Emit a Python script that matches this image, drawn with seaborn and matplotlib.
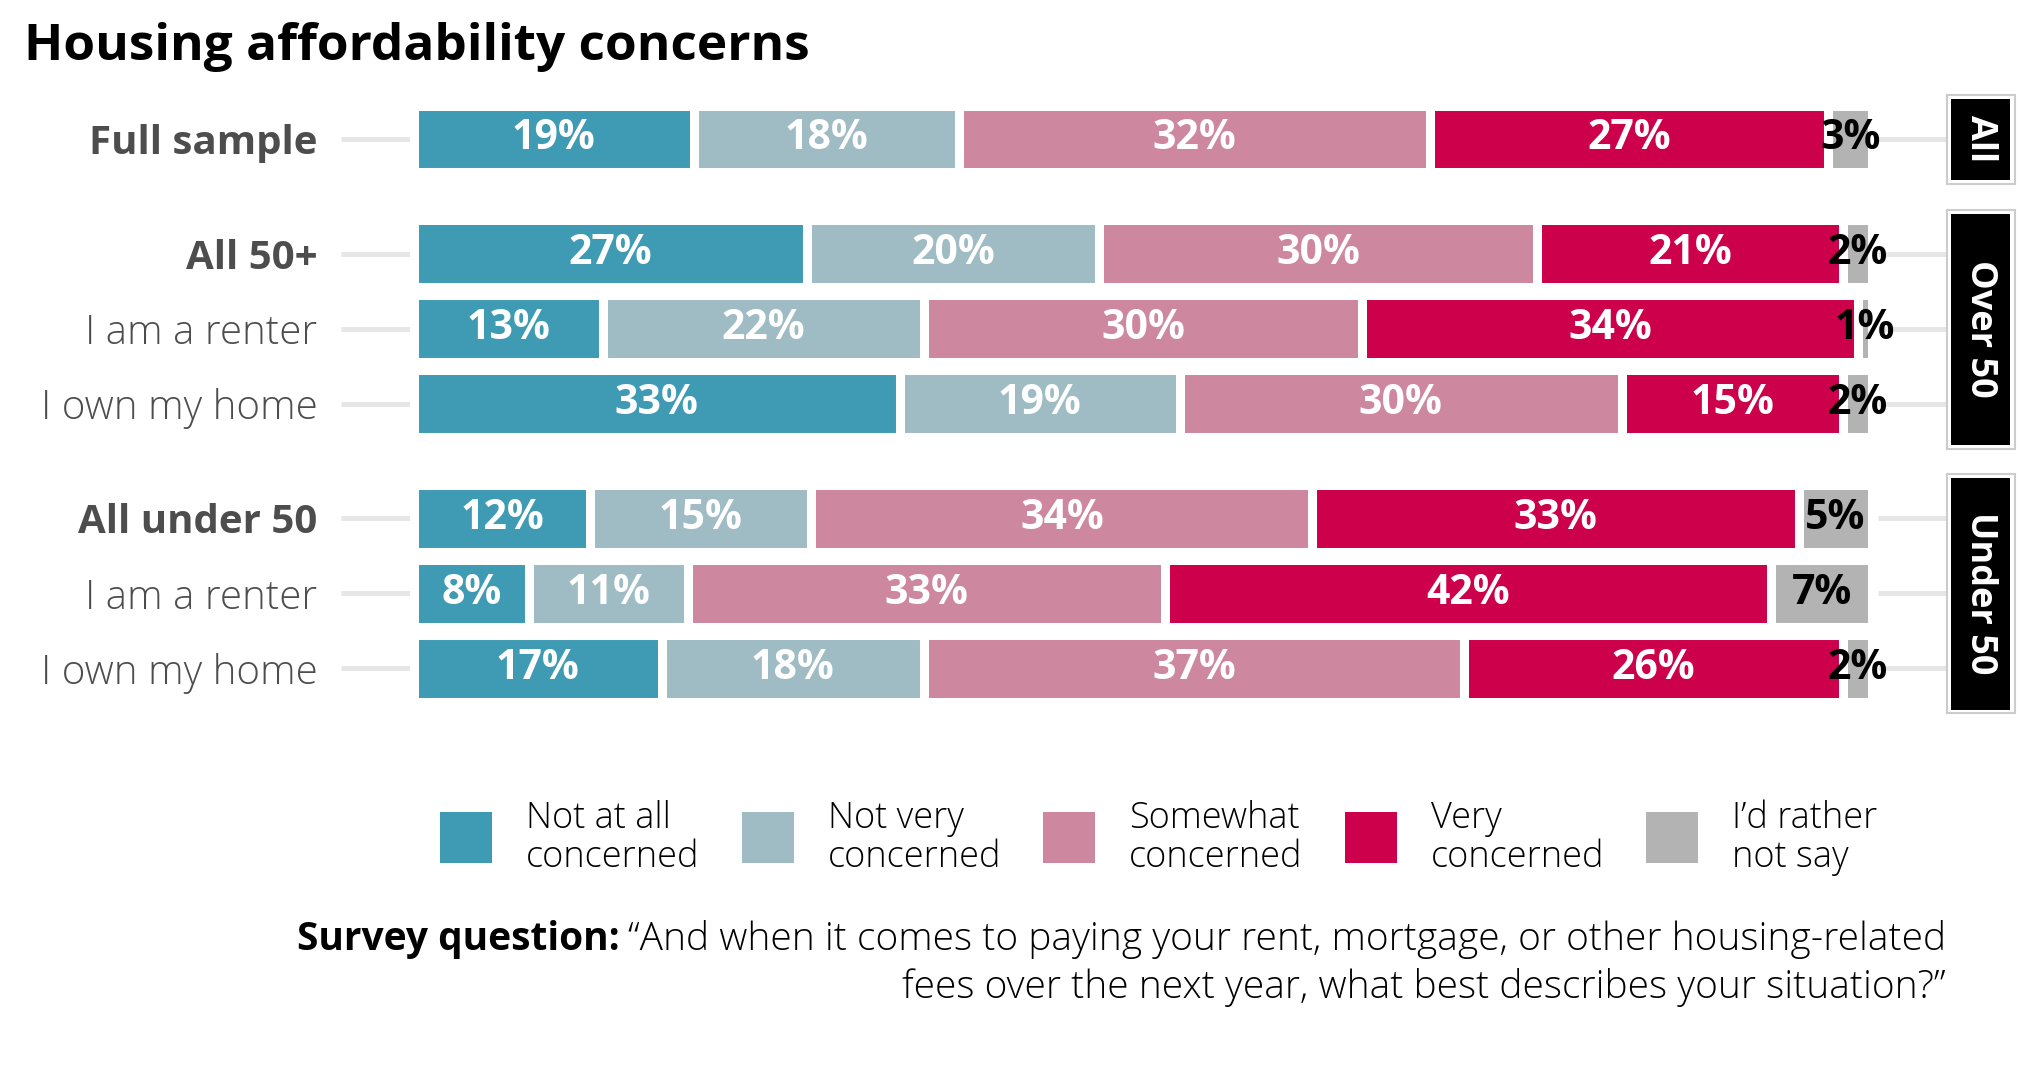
import numpy as np
import pandas as pd
import matplotlib.pyplot as plt
import matplotlib.transforms as mtransforms
from matplotlib.patches import Rectangle
import seaborn as sns

# Data
rows = ["Full sample", "All 50+", "I am a renter", "I own my home",
        "All under 50", "I am a renter", "I own my home"]
groups = ["All", "Over 50", "Over 50", "Over 50", "Under 50", "Under 50", "Under 50"]
bold_rows = [True, True, False, False, True, False, False]
categories = ["Not at all\nconcerned", "Not very\nconcerned", "Somewhat\nconcerned",
              "Very\nconcerned", "I\u2019d rather\nnot say"]
not_at_all = [19, 27, 13, 33, 12, 8, 17]
not_very = [18, 20, 22, 19, 15, 11, 18]
somewhat = [32, 30, 30, 30, 34, 33, 37]
very = [27, 21, 34, 15, 33, 42, 26]
rather_not = [3, 2, 1, 2, 5, 7, 2]

colors = ["#3e9bb3", "#9fbbc4", "#cd889f", "#cc004b", "#b3b3b3"]
label_grey = "#4d4d4d"
tick_grey = "#e6e6e6"

sns.set_style("white")
plt.rcParams["font.family"] = ["Open Sans", "DejaVu Sans"]

W, H = 2040, 1080
fig = plt.figure(figsize=(W / 100, H / 100), dpi=100)

# row positions: one unit per row, a bigger gap between groups
pos = []
y = 0.0
for i, g in enumerate(groups):
    if i > 0:
        y += 1.0 if g == groups[i - 1] else 1.53
    pos.append(y)

vals = np.array([not_at_all, not_very, somewhat, very, rather_not], dtype=float)
shares = vals / vals.sum(axis=0) * 100
cum = shares.cumsum(axis=0)

ax = fig.add_axes([410 / W, 1 - 714 / H, 1468 / W, 620 / H])

df = pd.DataFrame({"pos": pos, "label": rows})
# stacked bars: draw cumulative totals, longest first
for k in range(4, -1, -1):
    df["cum"] = cum[k]
    sns.barplot(data=df, x="cum", y="pos", orient="y", native_scale=True,
                color=colors[k], saturation=1, width=0.893, errorbar=None,
                edgecolor="white", linewidth=6.5, ax=ax)

for k in range(5):
    for i in range(len(rows)):
        ax.text(cum[k][i] - shares[k][i] / 2, pos[i], f"{int(vals[k][i])}%",
                ha="center", va="center", fontsize=29.5, fontweight="bold",
                color="white" if k < 4 else "black")

ax.set_xlim(-0.24, 100.38)
ax.set_ylim(7.667, -0.6)
ax.set_yticks(pos)
ax.set_yticklabels(rows)
for lab, b in zip(ax.get_yticklabels(), bold_rows):
    lab.set_fontsize(29)
    lab.set_color(label_grey)
    lab.set_fontweight("bold" if b else "light")
ax.tick_params(axis="y", left=True, right=True, length=49.7, width=3.6,
               color=tick_grey, pad=17)
ax.tick_params(axis="x", bottom=False, labelbottom=False)
ax.set_xlabel("")
ax.set_ylabel("")
for s in ax.spines.values():
    s.set_visible(False)

# group boxes on the right
trans = mtransforms.blended_transform_factory(ax.transAxes, ax.transData)
for g in ["All", "Over 50", "Under 50"]:
    p = [pos[i] for i in range(len(groups)) if groups[i] == g]
    top, bot = min(p) - 0.587, max(p) + 0.6
    ax.add_patch(Rectangle((1.047, top), 0.0463, bot - top, transform=trans,
                           facecolor="white", edgecolor="#cccccc", lw=1.5, clip_on=False))
    ax.add_patch(Rectangle((1.0497, top + 0.053), 0.0402, bot - top - 0.106,
                           transform=trans, facecolor="black", edgecolor="none",
                           clip_on=False))
    ax.text(1.0698, (min(p) + max(p)) / 2, g, transform=trans, rotation=-90,
            ha="center", va="center", color="white", fontsize=26,
            fontweight="bold", clip_on=False)

# title
fig.text(24 / W, 1 - 60 / H, "Housing affordability concerns", fontsize=37,
         fontweight="bold", color="black", va="baseline", ha="left")

# legend
for i, (cat, c) in enumerate(zip(categories, colors)):
    x0 = 440 + i * 301.6
    fig.patches.append(Rectangle((x0 / W, 1 - 863 / H), 52 / W, 51 / H,
                                 transform=fig.transFigure, facecolor=c,
                                 edgecolor="none"))
    fig.text((x0 + 86) / W, 1 - 838 / H, cat, fontsize=26, fontweight="light",
             color="black", ha="left", va="center", linespacing=1.05)

# survey question
t1 = fig.text(1946 / W, 1 - 950 / H,
              "\u201cAnd when it comes to paying your rent, mortgage, or other housing-related",
              fontsize=28, fontweight="light", color="black", ha="right", va="baseline")
fig.text(1946 / W, 1 - 998 / H,
         "fees over the next year, what best describes your situation?\u201d",
         fontsize=28, fontweight="light", color="black", ha="right", va="baseline")
fig.canvas.draw()
bb = t1.get_window_extent()
fig.text((bb.x0 - 8) / W, 1 - 950 / H, "Survey question:", fontsize=28,
         fontweight="bold", color="black", ha="right", va="baseline")

fig.savefig("out.png", dpi=100)
